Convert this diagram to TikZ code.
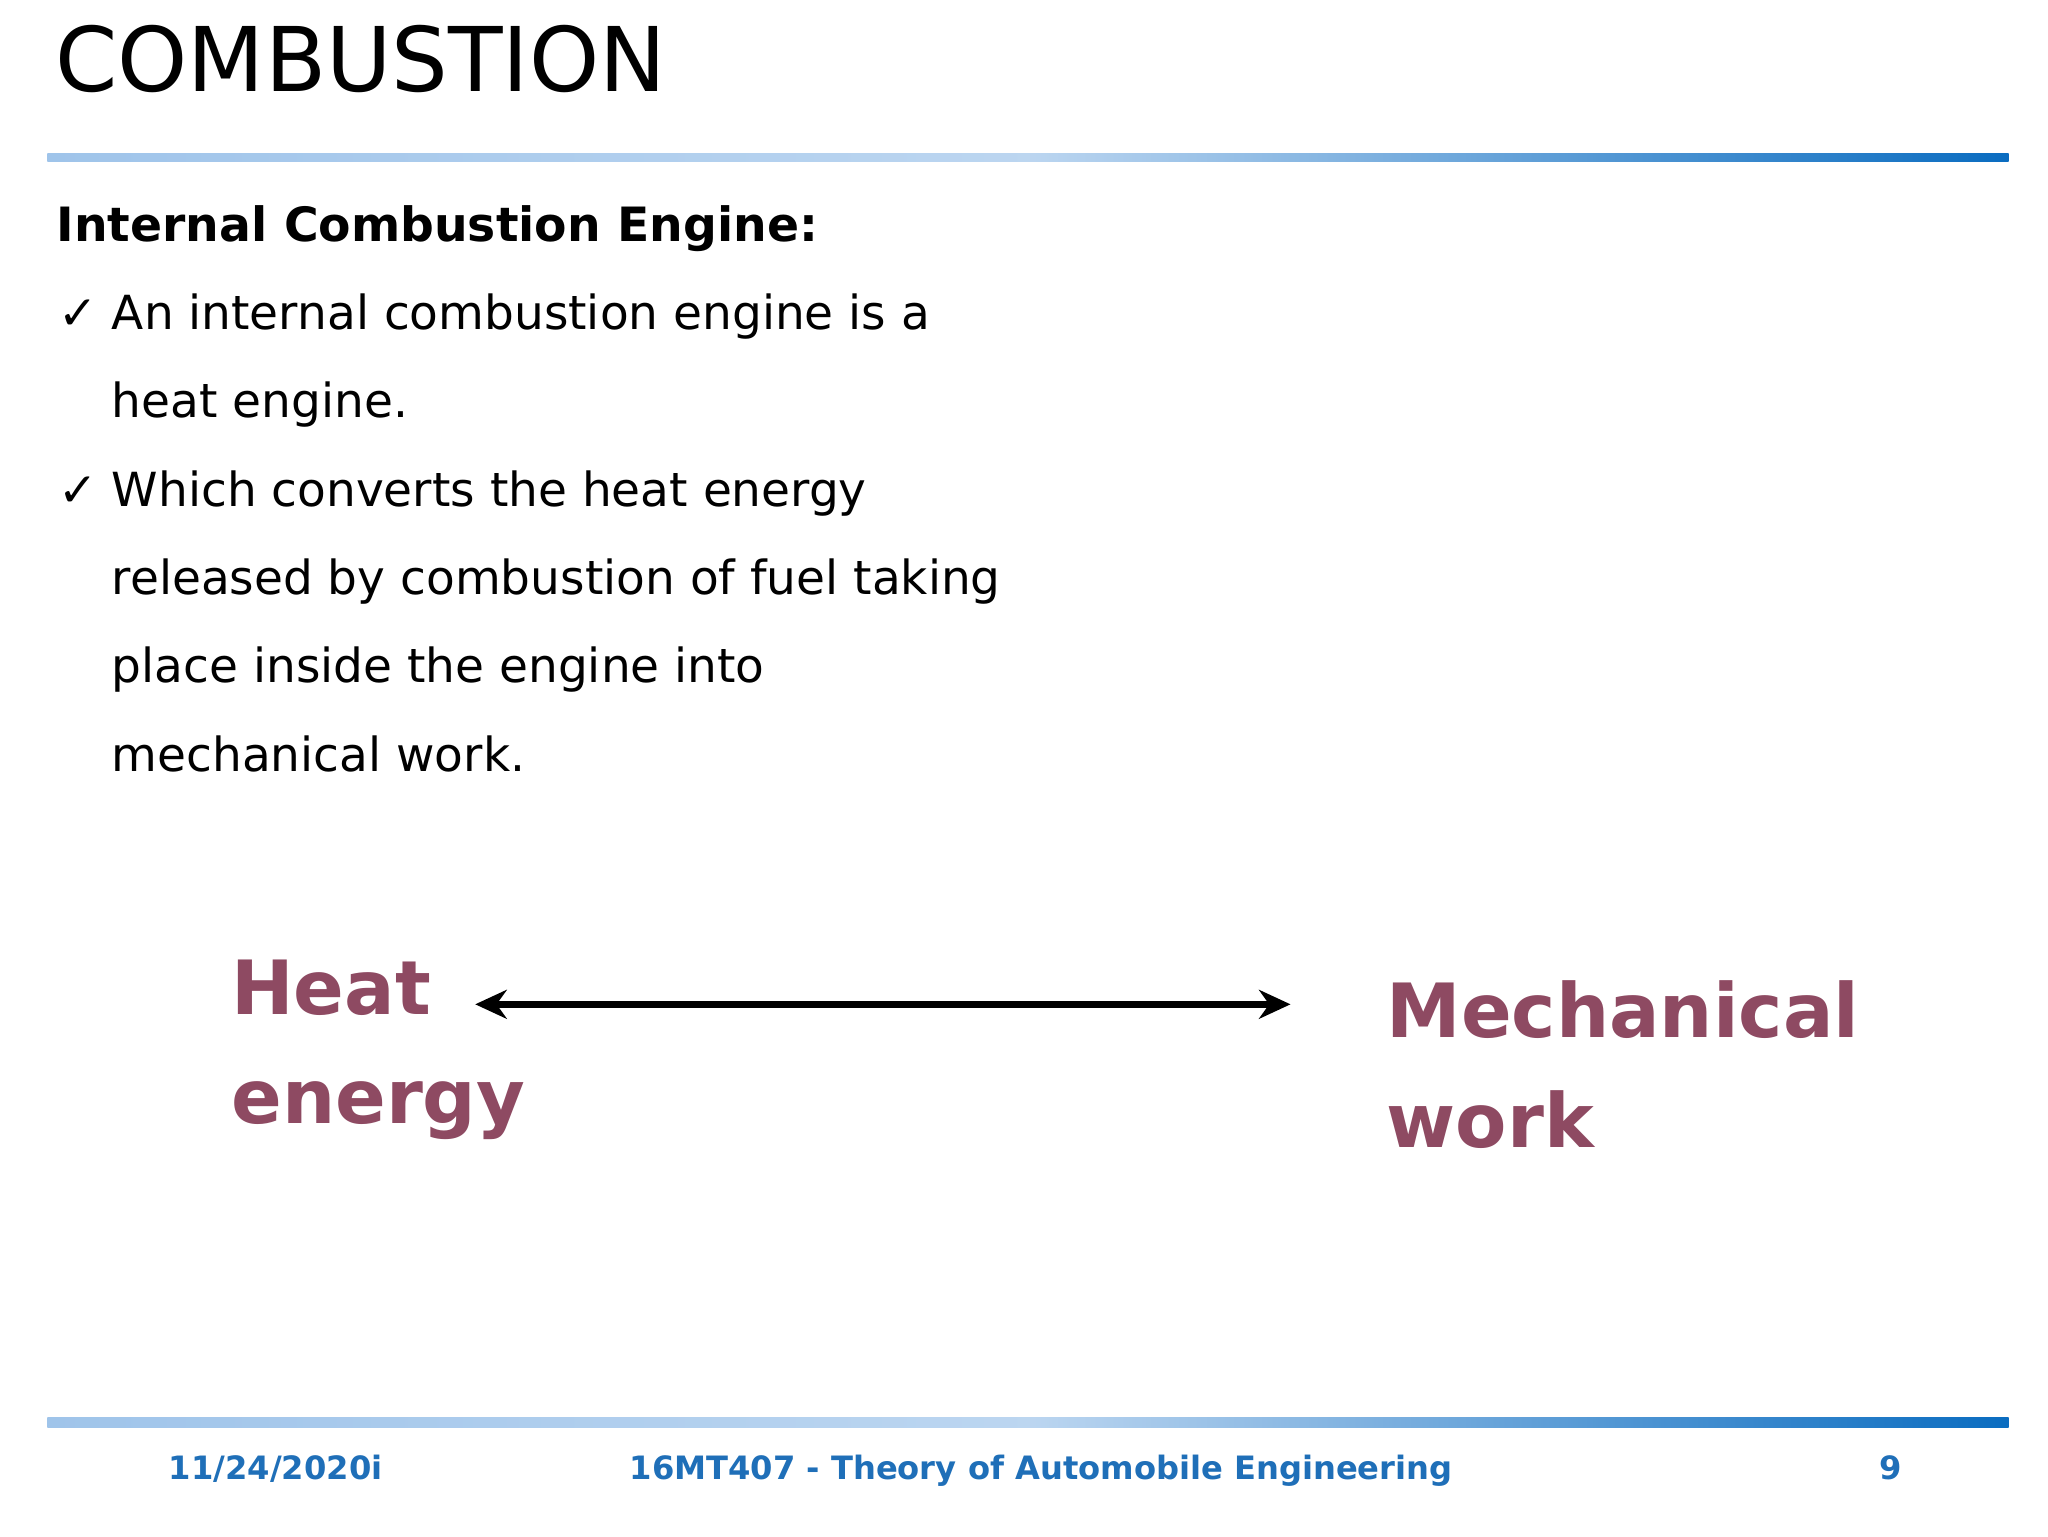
\documentclass[tikz,border=0pt]{standalone}
\usepackage{fontspec}
\setmainfont{DejaVu Sans}
\usetikzlibrary{arrows.meta}
\definecolor{maroon}{HTML}{8E4A62}
\definecolor{footblue}{HTML}{1F6FB8}
\definecolor{lineL}{HTML}{9FC4EA}
\definecolor{lineR}{HTML}{0A6CC0}
\begin{document}
\begin{tikzpicture}[x=1pt,y=-1pt,
  body/.style={anchor=base west,inner sep=0,font=\fontsize{35.8}{40}\selectfont},
  big/.style={anchor=base west,inner sep=0,text=maroon,font=\fontsize{57}{70}\selectfont\bfseries},
  foot/.style={anchor=base,inner sep=0,text=footblue,font=\fontsize{24.5}{30}\selectfont\bfseries}]
\useasboundingbox[fill=white] (0,0) rectangle (1560,1170);
\node[anchor=base west,inner sep=0,font=\fontsize{68}{74}\selectfont] (title) at (42,70) {COMBUSTION};
\shade[left color=lineL,right color=lineR,middle color=lineL!70] (36,117) rectangle (1530,123);
\node[body,font=\fontsize{36}{40}\selectfont\bfseries] (h) at (43,184) {Internal Combustion Engine:};
\node[body] (c1) at (44,251) {✓};
\node[body] (l1) at (85,251) {An internal combustion engine is a};
\node[body] (l2) at (85,318) {heat engine.};
\node[body] (c2) at (44,386) {✓};
\node[body] (l3) at (85,386) {Which converts the heat energy};
\node[body] (l4) at (85,453) {released by combustion of fuel taking};
\node[body] (l5) at (85,520) {place inside the engine into};
\node[body] (l6) at (85,588) {mechanical work.};
\node[big] (heat) at (176,773) {Heat};
\node[big] (energy) at (176,856) {energy};
\node[big] (mech) at (1056,790) {Mechanical};
\node[big] (work) at (1056,874) {work};
\coordinate (a1) at (362,765);
\coordinate (a2) at (983,765);
\draw[line width=5pt,{Stealth[length=24pt,width=22pt]}-{Stealth[length=24pt,width=22pt]}] (a1) -- (a2);
\shade[left color=lineL,right color=lineR,middle color=lineL!70] (36,1080) rectangle (1530,1087);
\node[foot] (f1) at (210,1127) {11/24/2020i};
\node[foot] (f2) at (793,1127) {16MT407 - Theory of Automobile Engineering};
\node[foot] (f3) at (1440,1127) {9};
\end{tikzpicture}
\end{document}
